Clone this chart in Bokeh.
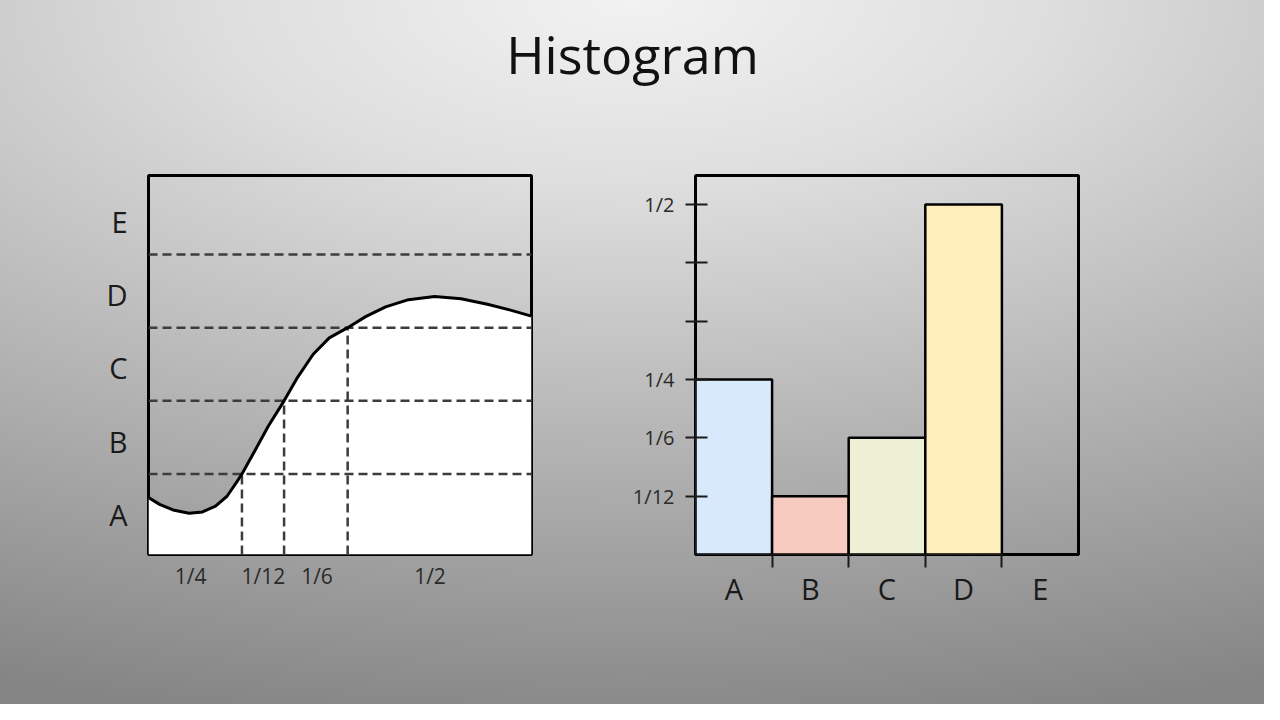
from bokeh.plotting import figure
from bokeh.layouts import column, row
from bokeh.models import Range1d, FixedTicker
from bokeh.embed import file_html
from bokeh.resources import INLINE
from bokeh.core.properties import value

# ---------------- data ----------------
title_text = "Histogram"
levels = ["A", "B", "C", "D", "E"]
level_pos = [0.45, 1.45, 2.45, 3.45, 4.45]       # where level letters sit on the left y axis
level_bounds = [1, 2, 3, 4]                       # boundaries between levels

# signal curve (x = fraction of time, y = level units)
curve_x = [0.0, 0.029, 0.064, 0.106, 0.141, 0.175, 0.205, 0.231, 0.244, 0.278,
           0.313, 0.354, 0.387, 0.430, 0.472, 0.520, 0.567, 0.619, 0.679, 0.747,
           0.816, 0.885, 0.945, 1.0]
curve_y = [0.679, 0.585, 0.509, 0.465, 0.482, 0.562, 0.696, 0.897, 1.0, 1.321,
           1.656, 2.0, 2.303, 2.637, 2.861, 3.0, 3.151, 3.285, 3.383, 3.427,
           3.396, 3.320, 3.240, 3.158]

cross_x = [0.244, 0.354, 0.520]                   # where the curve crosses level bounds
cross_level = [1, 2, 3]

share_labels = ["1/4", "1/12", "1/6", "1/2"]
share_pos = [0.11, 0.30, 0.44, 0.735]

bar_cats = ["A", "B", "C", "D"]
bar_values = [3 / 12, 1 / 12, 2 / 12, 6 / 12]
bar_colors = ["#d8e9fb", "#f7cbbf", "#eef0d6", "#fdeebb"]

prob_ticks = [1 / 12, 2 / 12, 3 / 12, 4 / 12, 5 / 12, 6 / 12]
prob_tick_labels = ["1/12", "1/6", "1/4", "", "", "1/2"]

FONT = "Open Sans"
INK = "#1a1a1a"
DASH_COLOR = "#3c3c3c"

# ---------------- title ----------------
pt = figure(width=1264, height=140, x_range=Range1d(0, 1), y_range=Range1d(0, 140),
            toolbar_location=None, output_backend="svg", min_border=0)
pt.axis.visible = False
pt.grid.visible = False
pt.outline_line_color = None
pt.background_fill_color = None
pt.border_fill_color = None
pt.text(x=[0.5], y=[87], text=[title_text], text_font=value(FONT), text_font_size="52px",
        text_align="center", text_baseline="alphabetic", text_color="#111111")

# ---------------- left panel ----------------
pl = figure(width=612, height=564, x_range=Range1d(0, 1), y_range=Range1d(-0.1, 5.08),
            toolbar_location=None, output_backend="svg",
            min_border_left=148, min_border_right=81, min_border_top=35, min_border_bottom=150)
pl.grid.visible = False
pl.background_fill_color = None
pl.border_fill_color = None
pl.outline_line_color = "black"
pl.outline_line_width = 3

pl.varea(x=curve_x, y1=[-0.1] * len(curve_x), y2=curve_y, fill_color="white")

for b in level_bounds:
    pl.line(x=[0, 1], y=[b, b], line_color=DASH_COLOR, line_width=2.5, line_dash="9 5")
pl.segment(x0=cross_x, y0=[-0.1] * len(cross_x), x1=cross_x, y1=cross_level,
           line_color=DASH_COLOR, line_width=2.5, line_dash="9 5")
pl.line(x=curve_x, y=curve_y, line_color="black", line_width=3, line_join="round")

pl.yaxis.ticker = FixedTicker(ticks=level_pos)
pl.yaxis.major_label_overrides = {p: l for p, l in zip(level_pos, levels)}
pl.yaxis.major_tick_line_color = None
pl.yaxis.minor_tick_line_color = None
pl.yaxis.axis_line_color = None
pl.yaxis.major_tick_out = 0
pl.yaxis.major_label_standoff = 21
pl.yaxis.major_label_text_font = FONT
pl.yaxis.major_label_text_font_size = "29px"
pl.yaxis.major_label_text_color = INK

pl.xaxis.ticker = FixedTicker(ticks=share_pos)
pl.xaxis.major_label_overrides = {p: l for p, l in zip(share_pos, share_labels)}
pl.xaxis.major_tick_line_color = None
pl.xaxis.minor_tick_line_color = None
pl.xaxis.axis_line_color = None
pl.xaxis.major_tick_out = 0
pl.xaxis.major_label_standoff = 7
pl.xaxis.major_label_text_font = FONT
pl.xaxis.major_label_text_font_size = "21px"
pl.xaxis.major_label_text_color = "#2a2a2a"

# ---------------- right panel ----------------
pr = figure(width=652, height=564, x_range=Range1d(0, len(levels)), y_range=Range1d(0, 0.5416),
            toolbar_location=None, output_backend="svg",
            min_border_left=83, min_border_right=186, min_border_top=35, min_border_bottom=150)
pr.grid.visible = False
pr.background_fill_color = None
pr.border_fill_color = None
pr.outline_line_color = "black"
pr.outline_line_width = 3

bar_x = [levels.index(c) + 0.5 for c in bar_cats]
pr.vbar(x=bar_x, width=1, bottom=0, top=bar_values, fill_color=bar_colors,
        line_color="black", line_width=2.5)

pr.yaxis.ticker = FixedTicker(ticks=prob_ticks)
pr.yaxis.major_label_overrides = {p: l for p, l in zip(prob_ticks, prob_tick_labels)}
pr.yaxis.minor_tick_line_color = None
pr.yaxis.axis_line_color = None
pr.yaxis.major_tick_in = 12
pr.yaxis.major_tick_out = 10
pr.yaxis.major_tick_line_width = 2
pr.yaxis.major_tick_line_color = INK
pr.yaxis.major_label_standoff = 11
pr.yaxis.major_label_text_font = FONT
pr.yaxis.major_label_text_font_size = "20px"
pr.yaxis.major_label_text_color = "#2a2a2a"

cat_centers = [i + 0.5 for i in range(len(levels))]
cat_edges = [i for i in range(1, len(levels))]
pr.xaxis.ticker = FixedTicker(ticks=cat_centers, minor_ticks=cat_edges)
pr.xaxis.major_label_overrides = {p: l for p, l in zip(cat_centers, levels)}
pr.xaxis.major_tick_line_color = None
pr.xaxis.major_tick_out = 0
pr.xaxis.major_tick_in = 0
pr.xaxis.minor_tick_in = 0
pr.xaxis.minor_tick_out = 13
pr.xaxis.minor_tick_line_width = 2
pr.xaxis.minor_tick_line_color = INK
pr.xaxis.axis_line_color = None
pr.xaxis.major_label_standoff = 1
pr.xaxis.major_label_text_font = FONT
pr.xaxis.major_label_text_font_size = "29px"
pr.xaxis.major_label_text_color = INK

layout = column(
    pt, row(pl, pr, spacing=0), spacing=0,
    styles={"background": "radial-gradient(ellipse 130% 105% at 50% 0%, #f2f2f2 0%, "
                          "#dedede 25%, #c0c0c0 50%, #a2a2a2 75%, #848484 100%)"},
)

open("out.html", "w").write(file_html(layout, INLINE))
